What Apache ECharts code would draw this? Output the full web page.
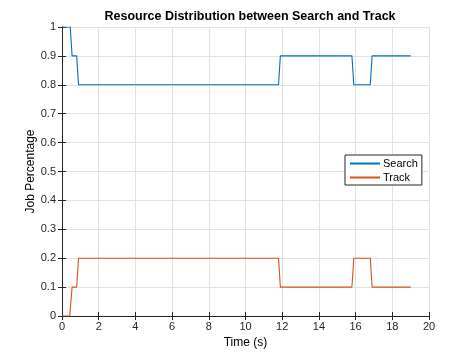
<!DOCTYPE html>
<html>
<head>
<meta charset="utf-8">
<script src="https://cdn.jsdelivr.net/npm/echarts@6/dist/echarts.min.js"></script>
<style>
  html, body { margin: 0; padding: 0; background: #fff; }
  #chart { width: 474px; height: 355px; }
</style>
</head>
<body>
<div id="chart"></div>
<script>
// time (s) / job share
var searchTime = [0, 0.45, 0.55, 0.8, 0.9, 11.8, 11.9, 15.8, 15.9, 16.8, 16.9, 19]
var searchPct  = [1, 1,    0.9,  0.9, 0.8, 0.8,  0.9,  0.9,  0.8,  0.8,  0.9,  0.9]
var trackTime  = [0, 0.42, 0.55, 0.8, 0.9, 11.8, 11.9, 15.8, 15.9, 16.8, 16.9, 19]
var trackPct   = [0, 0,    0.1,  0.1, 0.2, 0.2,  0.1,  0.1,  0.2,  0.2,  0.1,  0.1]
var seriesNames = ['Search', 'Track']

function pairs(xs, ys) {
  return xs.map(function (x, i) { return [x, ys[i]] })
}

var chart = echarts.init(document.getElementById('chart'))
var font = 'Liberation Sans, Arial, sans-serif'
var axisLine = { show: true, lineStyle: { color: '#262626', width: 1 } }

chart.setOption({
  animation: false,
  title: {
    text: 'Resource Distribution between Search and Track',
    left: 245, top: 5, textAlign: 'center',
    textStyle: { fontFamily: font, fontSize: 12.5, fontWeight: 'bold', color: '#000' }
  },
  grid: { left: 62, right: 45, top: 27, bottom: 39 },
  legend: {
    data: seriesNames,
    orient: 'vertical',
    left: 345, top: 155,
    itemWidth: 30, itemHeight: 2, itemGap: 3,
    icon: 'rect',
    padding: [3, 4, 2, 5],
    borderColor: '#262626', borderWidth: 1, backgroundColor: '#fff',
    textStyle: { fontFamily: font, fontSize: 11, color: '#000', padding: [0, 0, 0, -2] }
  },
  xAxis: [{
    type: 'value', min: 0, max: 20, interval: 2,
    name: 'Time (s)', nameLocation: 'middle', nameGap: 21, nameMoveOverlap: false,
    nameTextStyle: { fontFamily: font, fontSize: 12, color: '#000' },
    axisLine: axisLine,
    axisTick: { show: true, inside: true, length: 4, lineStyle: { color: '#262626' } },
    axisLabel: { fontFamily: font, fontSize: 11, color: '#262626', margin: 5 },
    splitLine: { show: true, lineStyle: { color: '#e2e2e2' } }
  }, {
    type: 'value', position: 'top', min: 0, max: 20, interval: 2,
    axisLine: axisLine,
    axisTick: { show: true, inside: true, length: 4, lineStyle: { color: '#262626' } },
    axisLabel: { show: false }, splitLine: { show: false }
  }],
  yAxis: [{
    type: 'value', min: 0, max: 1, interval: 0.1,
    name: 'Job Percentage', nameLocation: 'middle', nameGap: 25, nameMoveOverlap: false,
    nameTextStyle: { fontFamily: font, fontSize: 12, color: '#000' },
    axisLine: axisLine,
    axisTick: { show: true, inside: true, length: 4, lineStyle: { color: '#262626' } },
    axisLabel: {
      fontFamily: font, fontSize: 11, color: '#262626', margin: 6,
      formatter: function (v) { return String(Math.round(v * 10) / 10) }
    },
    splitLine: { show: true, lineStyle: { color: '#e2e2e2' } }
  }, {
    type: 'value', position: 'right', min: 0, max: 1, interval: 0.1,
    axisLine: axisLine,
    axisTick: { show: true, inside: true, length: 4, lineStyle: { color: '#262626' } },
    axisLabel: { show: false }, splitLine: { show: false }
  }],
  series: [{
    name: seriesNames[0], type: 'line', showSymbol: false,
    color: '#0072BD', lineStyle: { width: 1.1 },
    data: pairs(searchTime, searchPct)
  }, {
    name: seriesNames[1], type: 'line', showSymbol: false,
    color: '#D95319', lineStyle: { width: 1.1 },
    data: pairs(trackTime, trackPct)
  }]
})
</script>
</body>
</html>
